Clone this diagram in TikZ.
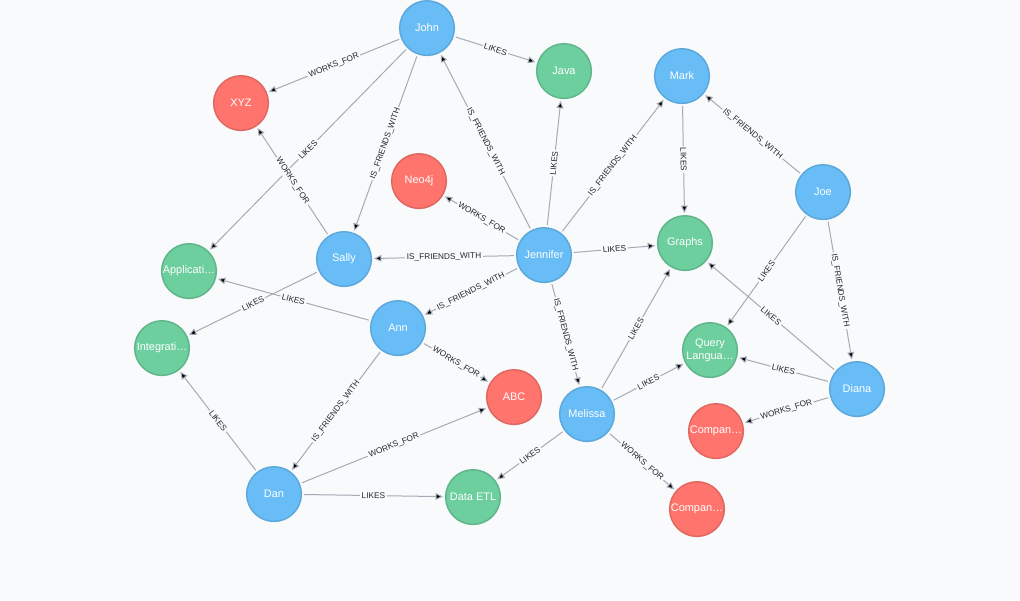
\documentclass[tikz,border=0pt]{standalone}
\usepackage{fontspec}
\setmainfont{Liberation Sans}
\usetikzlibrary{arrows.meta}
\definecolor{bgcol}{HTML}{F8FAFC}
\definecolor{edgecol}{HTML}{A5ABB6}
\definecolor{bluefill}{HTML}{68BDF6}
\definecolor{blueline}{HTML}{5CA8DB}
\definecolor{greenfill}{HTML}{6DCE9E}
\definecolor{greenline}{HTML}{60B58B}
\definecolor{redfill}{HTML}{FF756E}
\definecolor{redline}{HTML}{E06760}
\begin{document}
\begin{tikzpicture}[x=0.75pt, y=-0.75pt]
      \tikzset{vertex/.style={draw, circle, inner sep=0pt, minimum size=41pt, line width=1.1pt, text=white, align=center, font=\fontsize{8.2}{9.4}\selectfont},
        person/.style={vertex, fill=bluefill, draw=blueline},
        topic/.style={vertex, fill=greenfill, draw=greenline},
        company/.style={vertex, fill=redfill, draw=redline},
        rel/.style={draw=edgecol, line width=0.75pt, -{Triangle[length=5.5pt,width=5pt]}, shorten >=1.5pt, shorten <=1.5pt},
        lbl/.style={midway, sloped, fill=bgcol, inner sep=1.2pt, text=black!85, font=\fontsize{6.2}{7}\selectfont}}
      \fill[bgcol] (0,0) rectangle (1020,600);
%% Vertices
      	\node[person] (john) at (427,28) {John};
      	\node[company] (xyz) at (241,103) {XYZ};
      	\node[topic] (java) at (564,71) {Java};
      	\node[person] (mark) at (682,76) {Mark};
      	\node[company] (neo) at (419,181) {Neo4j};
      	\node[person] (joe) at (823,192) {Joe};
      	\node[person] (sally) at (344,259) {Sally};
      	\node[person] (jennifer) at (544,255) {Jennifer};
      	\node[topic] (graphs) at (685,243) {Graphs};
      	\node[topic] (appl) at (189,271) {Applicati…};
      	\node[person] (ann) at (398,328) {Ann};
      	\node[topic] (integr) at (162,348) {Integrati…};
      	\node[topic] (query) at (710,350) {Query\\Langua…};
      	\node[person] (diana) at (857,389) {Diana};
      	\node[company] (abc) at (514,397) {ABC};
      	\node[person] (melissa) at (587,414) {Melissa};
      	\node[company] (compa) at (716,431) {Compan…};
      	\node[person] (dan) at (274,494) {Dan};
      	\node[topic] (etl) at (473,497) {Data ETL};
      	\node[company] (compb) at (697,509) {Compan…};
%Edges
		\path[rel] (john) edge node[lbl] {WORKS\_FOR} (xyz);
		\path[rel] (john) edge node[lbl] {LIKES} (java);
		\path[rel] (john) edge node[lbl] {LIKES} (appl);
		\path[rel] (john) edge node[lbl] {IS\_FRIENDS\_WITH} (sally);
		\path[rel] (jennifer) edge node[lbl] {IS\_FRIENDS\_WITH} (john);
		\path[rel] (sally) edge node[lbl] {WORKS\_FOR} (xyz);
		\path[rel] (jennifer) edge node[lbl] {WORKS\_FOR} (neo);
		\path[rel] (jennifer) edge node[lbl] {LIKES} (java);
		\path[rel] (jennifer) edge node[lbl] {IS\_FRIENDS\_WITH} (mark);
		\path[rel] (mark) edge node[lbl] {LIKES} (graphs);
		\path[rel] (joe) edge node[lbl] {IS\_FRIENDS\_WITH} (mark);
		\path[rel] (jennifer) edge node[lbl] {IS\_FRIENDS\_WITH} (sally);
		\path[rel] (jennifer) edge node[lbl] {LIKES} (graphs);
		\path[rel] (jennifer) edge node[lbl] {IS\_FRIENDS\_WITH} (ann);
		\path[rel] (jennifer) edge node[lbl] {IS\_FRIENDS\_WITH} (melissa);
		\path[rel] (sally) edge node[lbl] {LIKES} (integr);
		\path[rel] (ann) edge node[lbl] {LIKES} (appl);
		\path[rel] (ann) edge node[lbl] {WORKS\_FOR} (abc);
		\path[rel] (ann) edge node[lbl] {IS\_FRIENDS\_WITH} (dan);
		\path[rel] (dan) edge node[lbl] {LIKES} (integr);
		\path[rel] (dan) edge node[lbl] {WORKS\_FOR} (abc);
		\path[rel] (dan) edge node[lbl] {LIKES} (etl);
		\path[rel] (melissa) edge node[lbl] {LIKES} (etl);
		\path[rel] (melissa) edge node[lbl] {LIKES} (graphs);
		\path[rel] (melissa) edge node[lbl] {LIKES} (query);
		\path[rel] (melissa) edge node[lbl] {WORKS\_FOR} (compb);
		\path[rel] (joe) edge node[lbl] {LIKES} (query);
		\path[rel] (joe) edge node[lbl] {IS\_FRIENDS\_WITH} (diana);
		\path[rel] (diana) edge node[lbl] {LIKES} (graphs);
		\path[rel] (diana) edge node[lbl] {LIKES} (query);
		\path[rel] (diana) edge node[lbl] {WORKS\_FOR} (compa);
	\end{tikzpicture}
\end{document}
